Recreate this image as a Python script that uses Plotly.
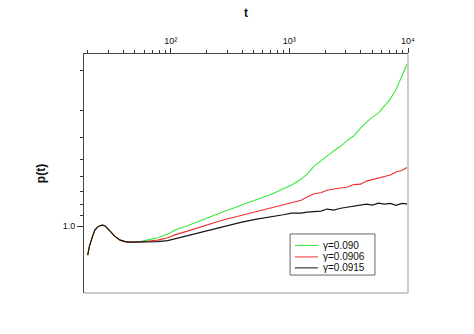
import plotly.graph_objects as go

# time points shared by the three runs
t = [20, 20.7, 22, 23.0, 24.2, 25.4, 26.6, 27.7, 28.7, 29.9, 31.1, 34.1, 37.6,
     41.3, 45.6, 53.1, 63.1, 77.9, 94.4, 110, 138.6, 171, 211, 271, 329, 398,
     531, 643, 750, 891, 1039, 1259, 1413, 1616, 1848, 2074, 2371, 2712, 3102,
     3481, 3981, 4467, 5012, 5623, 6310, 7079, 7943, 8913, 10000]

p_green = [1.351, 1.230, 1.109, 1.042, 1.010, 0.995, 0.990, 0.995, 1.010, 1.032,
           1.059, 1.115, 1.156, 1.174, 1.180, 1.178, 1.156, 1.127, 1.087, 1.037,
           0.995, 0.955, 0.911, 0.865, 0.834, 0.804, 0.760, 0.733, 0.710, 0.678,
           0.654, 0.614, 0.583, 0.537, 0.510, 0.484, 0.459, 0.436, 0.410, 0.393,
           0.362, 0.340, 0.323, 0.310, 0.288, 0.268, 0.242, 0.212, 0.1825]

p_red = [1.351, 1.230, 1.109, 1.042, 1.010, 0.995, 0.990, 0.995, 1.010, 1.032,
         1.059, 1.115, 1.156, 1.174, 1.180, 1.180, 1.169, 1.156, 1.127, 1.092,
         1.053, 1.016, 0.979, 0.940, 0.916, 0.892, 0.856, 0.838, 0.816, 0.800,
         0.785, 0.764, 0.740, 0.715, 0.708, 0.689, 0.681, 0.676, 0.667, 0.650,
         0.647, 0.627, 0.617, 0.608, 0.596, 0.589, 0.571, 0.560, 0.542]

p_black = [1.351, 1.230, 1.109, 1.042, 1.010, 0.995, 0.990, 0.995, 1.010, 1.032,
           1.059, 1.115, 1.156, 1.174, 1.180, 1.180, 1.174, 1.174, 1.162, 1.138,
           1.104, 1.070, 1.042, 1.010, 0.985, 0.959, 0.930, 0.916, 0.900, 0.888,
           0.874, 0.874, 0.865, 0.860, 0.856, 0.838, 0.847, 0.830, 0.821, 0.813,
           0.804, 0.796, 0.804, 0.788, 0.796, 0.790, 0.806, 0.790, 0.796]

labels = ["γ=0.090", "γ=0.0906", "γ=0.0915"]
colors = ["#3ae83a", "#ee3030", "#151515"]

x_ticks = [100, 1000, 10000]
x_tick_text = ["10²", "10³", "10⁴"]
x_minor = [20, 30, 40, 50, 60, 70, 80, 90,
           200, 300, 400, 500, 600, 700, 800, 900,
           2000, 3000, 4000, 5000, 6000, 7000, 8000, 9000]
y_ticks = [1.0]
y_tick_text = ["1.0"]
y_minor = [0.2, 0.3, 0.4, 0.5, 0.6, 0.7, 0.8, 0.9]

font = "Liberation Sans, Arial, sans-serif"

fig = go.Figure()
for name, ys, c in zip(labels, [p_green, p_red, p_black], colors):
    fig.add_trace(go.Scatter(x=t, y=ys, mode="lines", name=name,
                             line=dict(color=c, width=1.1), showlegend=False))

fig.update_layout(
    width=474, height=334,
    margin=dict(l=84, r=66, t=54, b=41),
    paper_bgcolor="white", plot_bgcolor="white",
    font=dict(family=font, size=9, color="#111"),
)

fig.update_xaxes(
    type="log", side="top", range=[1.27, 4.0],
    tickvals=x_ticks, ticktext=x_tick_text,
    ticks="outside", ticklen=5, tickcolor="#333", tickwidth=1,
    minor=dict(tickvals=x_minor, ticks="outside", ticklen=3, tickcolor="#333"),
    showgrid=False, zeroline=False,
    showline=True, linecolor="#444", linewidth=1,
    tickfont=dict(size=9, family=font, color="#111"),
    title=dict(text="<b>t</b>", font=dict(size=12, family=font), standoff=16),
)

fig.update_yaxes(
    type="log", range=[0.301, -0.775],
    tickvals=y_ticks, ticktext=y_tick_text,
    ticks="outside", ticklen=6, tickcolor="#333", tickwidth=1,
    minor=dict(tickvals=y_minor, ticks="outside", ticklen=3, tickcolor="#333"),
    showgrid=False, zeroline=False,
    showline=True, linecolor="#444", linewidth=1,
    tickfont=dict(size=9, family=font, color="#111"),
    title=dict(text="<b>p(t)</b>", font=dict(size=12, family=font), standoff=14),
)

# light frame on the right and bottom edges of the plot area
fig.add_shape(type="line", xref="paper", yref="paper", x0=1, x1=1, y0=0, y1=1,
              line=dict(color="#cccccc", width=2))
fig.add_shape(type="line", xref="paper", yref="paper", x0=0, x1=1, y0=0, y1=0,
              line=dict(color="#cccccc", width=2))

# compact legend box in the lower right corner
fig.add_shape(type="rect", xref="paper", yref="paper",
              x0=0.636, x1=0.898, y0=0.075, y1=0.247,
              line=dict(color="#666", width=1), fillcolor="white", layer="above")
entry_y = [0.199, 0.151, 0.105]
for name, c, yy in zip(labels, colors, entry_y):
    fig.add_shape(type="line", xref="paper", yref="paper",
                  x0=0.651, x1=0.722, y0=yy, y1=yy,
                  line=dict(color=c, width=1), layer="above")
    fig.add_annotation(xref="paper", yref="paper", x=0.733, y=yy,
                       xanchor="left", yanchor="middle", showarrow=False,
                       text=name, font=dict(size=10, family=font, color="#111"))

fig.write_html("out.html")
